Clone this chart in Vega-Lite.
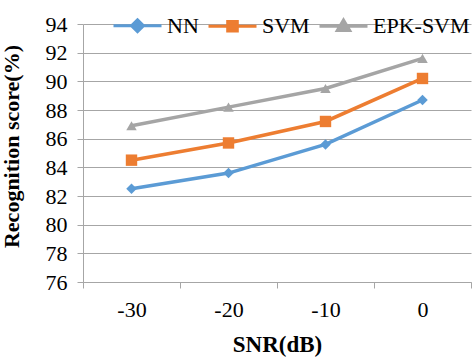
{
  "$schema": "https://vega.github.io/schema/vega-lite/v6.json",
  "width": 388,
  "height": 258,
  "autosize": "none",
  "padding": {"left": 83, "top": 24, "right": 3, "bottom": 75},
  "background": "white",
  "config": {
    "font": "Liberation Serif",
    "view": {"stroke": null},
    "axis": {"labelFont": "Liberation Serif", "titleFont": "Liberation Serif", "labelColor": "black", "titleColor": "black", "labelFontSize": 22, "titleFontSize": 22, "titleFontWeight": "bold", "domainColor": "#a6a6a6", "tickColor": "#a6a6a6", "gridColor": "#a6a6a6", "tickSize": 6}
  },
  "data": {"values": [
    {"snr": "-30", "series": "NN", "score": 82.5},
    {"snr": "-20", "series": "NN", "score": 83.6},
    {"snr": "-10", "series": "NN", "score": 85.6},
    {"snr": "0", "series": "NN", "score": 88.7},
    {"snr": "-30", "series": "SVM", "score": 84.5},
    {"snr": "-20", "series": "SVM", "score": 85.7},
    {"snr": "-10", "series": "SVM", "score": 87.2},
    {"snr": "0", "series": "SVM", "score": 90.2},
    {"snr": "-30", "series": "EPK-SVM", "score": 86.9},
    {"snr": "-20", "series": "EPK-SVM", "score": 88.2},
    {"snr": "-10", "series": "EPK-SVM", "score": 89.5},
    {"snr": "0", "series": "EPK-SVM", "score": 91.6}
  ]},
  "encoding": {
    "x": {"field": "snr", "type": "ordinal", "sort": ["-30", "-20", "-10", "0"],
      "scale": {"type": "band", "paddingInner": 0, "paddingOuter": 0},
      "axis": {"title": "SNR(dB)", "labelAngle": 0, "tickBand": "extent", "grid": false, "labelPadding": 11, "titlePadding": 13, "titleFontSize": 23, "labelFont": "Liberation Serif", "labelFontSize": 22}},
    "y": {"field": "score", "type": "quantitative",
      "scale": {"domain": [76, 94], "nice": false, "zero": false},
      "axis": {"title": "Recognition score(%)", "values": [76, 78, 80, 82, 84, 86, 88, 90, 92, 94], "labelPadding": 10, "titlePadding": 22, "titleY": 122, "labelFont": "Liberation Serif", "labelFontSize": 22}},
    "color": {"field": "series", "type": "nominal", "sort": ["NN", "SVM", "EPK-SVM"],
      "scale": {"domain": ["NN", "SVM", "EPK-SVM"], "range": ["#5b9bd5", "#ed7d31", "#a5a5a5"]},
      "legend": {"title": null, "orient": "none", "direction": "horizontal", "legendX": 29, "legendY": -24,
        "labelFont": "Liberation Serif", "labelFontSize": 22, "labelColor": "black", "labelOffset": 4,
        "symbolSize": 2304, "symbolStrokeWidth": 3, "columnPadding": 3, "labelLimit": 300,
        "encode": {"symbols": {"update": {
          "shape": {"signal": "datum.value === 'NN' ? 'M-1,0H1M0,-0.25L0.25,0L0,0.25L-0.25,0Z' : datum.value === 'SVM' ? 'M-1,0H1M-0.2,-0.2H0.2V0.2H-0.2Z' : 'M-1,0H1M0,-0.26L0.26,0.18H-0.26Z'"},
          "fill": {"signal": "scale('color', datum.value)"},
          "fillOpacity": {"value": 1},
          "stroke": {"signal": "scale('color', datum.value)"},
          "strokeWidth": {"value": 3}
        }}}}
    }
  },
  "layer": [
    {"mark": {"type": "line", "strokeWidth": 3.5}},
    {"transform": [{"filter": "datum.series === 'NN'"}],
     "mark": {"type": "point", "filled": true, "opacity": 1, "size": 110, "shape": "diamond"}},
    {"transform": [{"filter": "datum.series === 'SVM'"}],
     "mark": {"type": "point", "filled": true, "opacity": 1, "size": 130, "shape": "square"}},
    {"transform": [{"filter": "datum.series === 'EPK-SVM'"}],
     "mark": {"type": "point", "filled": true, "opacity": 1, "size": 110, "shape": "triangle-up"}}
  ]
}
